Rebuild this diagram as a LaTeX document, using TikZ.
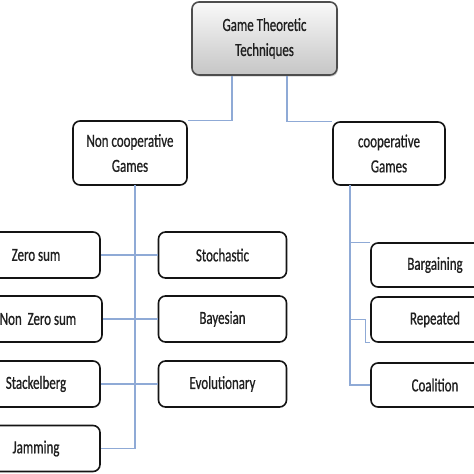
\documentclass[tikz,border=0pt]{standalone}
\usepackage{fontspec}
\setmainfont[FakeStretch=0.7, FakeBold=0.7]{Carlito}
\usepackage{xcolor}
\definecolor{textdark}{HTML}{1F1F1F}
\definecolor{boxedge}{HTML}{141414}
\definecolor{topedge}{HTML}{4D4D4D}
\definecolor{linkblue}{HTML}{8FAAD6}
\usepackage{tikz}
\usetikzlibrary{positioning,calc,shadows}

\begin{document}
\begin{tikzpicture}[x=1pt, y=-1pt,
    gamebox/.style={draw=boxedge, line width=1.6pt, rounded corners=7pt, fill=white,
      text=textdark, align=center, inner sep=0pt, font=\fontsize{18.5}{25}\selectfont},
    rootbox/.style={gamebox, draw=topedge, top color=gray!5, bottom color=gray!45,
      drop shadow={opacity=0.35, shadow xshift=1pt, shadow yshift=-1.5pt}},
    leafbox/.style={gamebox, minimum width=128, minimum height=46},
    link/.style={draw=linkblue, line width=1.2pt}]
        \useasboundingbox[fill=white] (0,0) rectangle (474,474);

        % Root and the two families
        \node[rootbox, minimum width=145, minimum height=73] (gtt) at (264.5,38.5) {Game Theoretic\\Techniques};
        \node[gamebox, minimum width=114, minimum height=64] (noncoop) at (130,153) {Non cooperative\\Games};
        \node[gamebox, minimum width=112, minimum height=63] (coop) at (389,153.5) {cooperative\\Games};

        % Non cooperative games
        \node[leafbox] (zerosum) at (36,255) {Zero sum};
        \node[leafbox] (nonzero) at (38,319) {Non\ \ Zero sum};
        \node[leafbox] (stackel) at (36,384) {Stackelberg};
        \node[leafbox] (jamming) at (36,448.5) {Jamming};
        \node[leafbox] (stoch) at (222.5,255) {Stochastic};
        \node[leafbox] (bayes) at (222.5,319) {Bayesian};
        \node[leafbox] (evol) at (222.5,384) {Evolutionary};

        % Cooperative games
        \node[leafbox, minimum height=44] (bargain) at (435,265) {Bargaining};
        \node[leafbox, minimum height=45] (repeat) at (435,319.5) {Repeated};
        \node[leafbox, minimum height=44] (coalit) at (435,385) {Coalition};

        % Links
        \coordinate (ltrunk) at (135,185);
        \coordinate (rtrunk) at (350,185);
        \draw[link] ([xshift=-32.5pt]gtt.south) |- (noncoop.north east);
        \draw[link] ([xshift=22.5pt]gtt.south) |- (coop.north west);
        \draw[link] (ltrunk) |- (jamming.east);
        \draw[link] (zerosum) -- (stoch);
        \draw[link] (nonzero) -- (bayes);
        \draw[link] (stackel) -- (evol);
        \draw[link] (rtrunk) |- (coalit.west);
        \draw[link] (rtrunk |- bargain.north west) -- (bargain.north west);
        \draw[link] (rtrunk |- repeat.west) -| ([xshift=-5pt]repeat.south west) -- (repeat.south west);
      \end{tikzpicture}
\end{document}
